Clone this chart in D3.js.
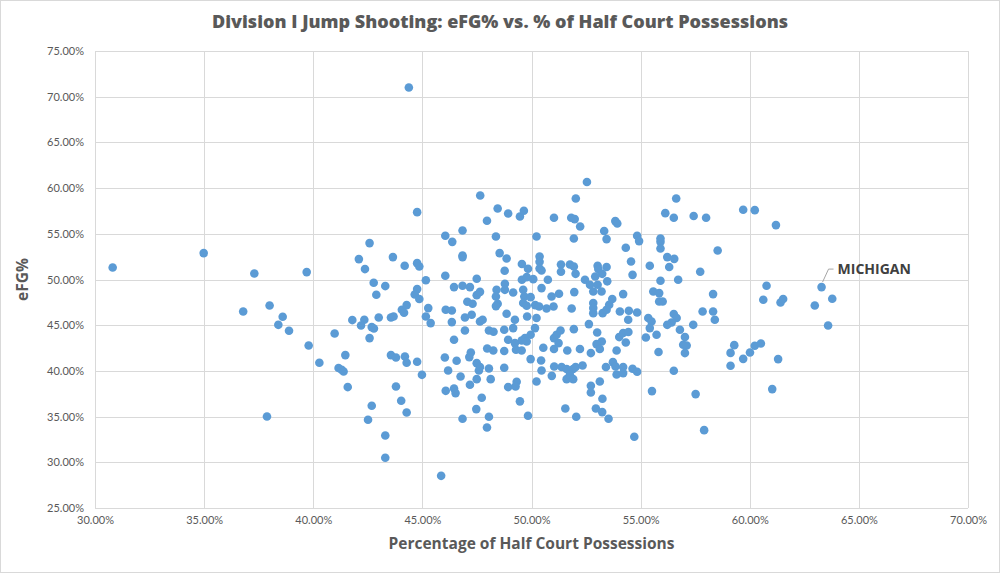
<!DOCTYPE html>
<html lang="en">
<head>
<meta charset="UTF-8">
<title>Division I Jump Shooting: eFG% vs. % of Half Court Possessions</title>
<script src="https://d3js.org/d3.v7.min.js"></script>
<style>
    body { margin: 0; background: #fff; }
    svg { display: block; font-family: "Open Sans", Lato, sans-serif; }
    .grid .domain { display: none; }
    .grid line { stroke: #d9d9d9; shape-rendering: crispEdges; }
    .grid text { font-size: 11px; fill: #595959; font-family: Lato, sans-serif; }
    .axis-title { font-size: 15.5px; font-weight: bold; fill: #595959; }
    .title { font-size: 18px; font-weight: 800; fill: #595959; }
</style>
</head>
<body>
<svg id="chart" width="1000" height="573"></svg>
<script>
// % of possessions in the half court, one per team
const halfCourtPct = [
    30.81, 34.98, 37.30, 39.70, 42.58, 42.09, 42.37, 43.65, 44.19, 44.76,
    47.65, 48.45, 48.93, 47.96, 49.47, 49.65, 52.54, 52.03, 51.03, 51.82,
    51.98, 52.23, 53.84, 53.93, 53.33, 53.44, 54.32, 46.05, 46.37, 46.84,
    48.37, 50.23, 51.94, 46.84, 46.84, 48.54, 48.86, 44.76, 44.86, 48.77,
    49.56, 49.84, 50.37, 50.37, 50.37, 50.46, 51.35, 51.35, 51.76, 51.94,
    52.02, 53.03, 53.06, 53.24, 52.92, 53.44, 54.56, 46.05, 45.16, 47.49,
    49.56, 49.78, 50.08, 50.75, 52.45, 53.47, 56.63, 56.13, 56.52, 57.43,
    58.00, 59.70, 60.23, 61.20, 54.84, 54.93, 55.91, 55.91, 55.91, 58.53,
    56.22, 56.54, 55.42, 56.31, 57.73, 54.63, 56.72, 55.91, 36.79, 38.00,
    38.60, 38.40, 38.89, 39.79, 40.28, 40.98, 41.47, 41.16, 41.30, 41.39,
    41.58, 41.79, 42.34, 42.19, 42.68, 42.78, 42.58, 43.00, 42.77, 43.30,
    42.89, 43.56, 43.68, 44.06, 44.28, 44.16, 43.56, 43.79, 44.20, 44.28,
    43.79, 44.03, 44.76, 44.65, 44.86, 45.27, 45.16, 45.38, 46.07, 46.35,
    46.45, 46.84, 47.18, 47.49, 47.64, 47.06, 47.30, 48.40, 48.37, 48.45,
    48.37, 48.78, 48.78, 49.16, 49.62, 49.67, 49.62, 49.78, 50.46, 49.96,
    50.17, 50.35, 50.69, 51.01, 50.92, 51.26, 51.96, 51.84, 52.68, 53.03,
    52.83, 53.21, 52.83, 52.83, 52.83, 53.26, 53.44, 53.56, 53.70, 54.20,
    54.05, 54.46, 54.43, 48.86, 46.95, 47.26, 47.64, 47.76, 46.35, 49.24,
    49.16, 49.80, 50.23, 46.95, 48.05, 48.26, 48.75, 50.16, 49.96, 49.70,
    49.55, 49.78, 48.93, 49.24, 49.29, 49.55, 48.25, 47.97, 48.75, 46.45,
    47.22, 47.15, 46.03, 46.57, 44.76, 44.98, 46.18, 46.75, 47.49, 47.64,
    47.59, 48.05, 48.75, 47.49, 48.13, 47.18, 48.93, 49.32, 49.27, 46.07,
    46.45, 46.52, 47.72, 49.96, 50.44, 50.46, 50.54, 50.23, 50.93, 51.04,
    51.38, 51.61, 51.91, 52.02, 52.34, 51.61, 51.76, 51.91, 51.03, 51.03,
    51.15, 51.33, 51.24, 51.94, 51.64, 52.22, 52.72, 53.01, 53.22, 52.98,
    53.13, 52.63, 53.90, 54.02, 54.20, 54.44, 54.32, 53.41, 53.73, 53.85,
    54.20, 53.90, 54.20, 53.13, 52.72, 52.72, 53.25, 49.47, 55.58, 55.85,
    55.85, 56.01, 58.32, 54.84, 55.35, 55.50, 55.42, 56.52, 56.65, 56.42,
    56.22, 57.84, 58.32, 58.40, 57.41, 56.80, 55.24, 55.73, 57.03, 56.95,
    57.11, 57.03, 55.82, 60.77, 60.62, 61.41, 61.53, 63.29, 62.98, 63.78,
    63.59, 59.29, 59.12, 59.70, 60.01, 60.23, 60.51, 61.30, 59.12, 54.63,
    54.84, 56.52, 55.52, 57.52, 61.03, 37.88, 42.68, 42.51, 43.30, 43.30,
    44.28, 46.84, 47.47, 48.05, 47.96, 49.84, 45.86, 51.55, 52.05, 52.95,
    53.24, 53.53, 54.71, 57.91, 44.38
];

// effective field goal % on jump shots, same order
const efgPct = [
    51.31, 52.89, 50.66, 50.81, 53.98, 52.23, 51.14, 52.45, 51.50, 57.37,
    59.19, 57.77, 57.22, 56.42, 56.89, 57.52, 60.66, 58.86, 56.75, 56.75,
    56.61, 55.80, 56.39, 56.13, 55.30, 54.42, 53.47, 54.78, 54.12, 55.36,
    54.70, 54.70, 54.49, 52.63, 52.45, 52.89, 52.30, 51.79, 51.42, 50.95,
    51.69, 51.17, 52.52, 51.94, 51.20, 50.98, 51.64, 50.84, 51.64, 51.42,
    50.62, 51.50, 51.14, 50.62, 50.33, 51.36, 51.97, 50.41, 49.91, 50.08,
    49.97, 50.26, 50.04, 49.97, 49.97, 49.80, 58.86, 57.26, 56.75, 56.94,
    56.75, 57.63, 57.59, 55.95, 54.78, 54.20, 54.49, 54.12, 53.39, 53.17,
    52.45, 52.26, 51.50, 51.36, 50.84, 50.51, 49.97, 49.86, 46.50, 47.16,
    45.92, 45.04, 44.39, 42.78, 40.89, 44.09, 41.73, 40.31, 40.12, 39.93,
    38.23, 45.56, 45.59, 44.97, 44.79, 44.64, 43.59, 45.84, 49.64, 49.28,
    48.33, 45.84, 45.95, 46.69, 47.20, 46.36, 41.73, 41.47, 41.58, 40.89,
    38.29, 36.73, 48.95, 48.36, 47.86, 46.87, 45.95, 45.23, 46.69, 46.61,
    49.17, 49.31, 49.17, 48.29, 48.65, 47.56, 47.34, 48.87, 48.14, 47.34,
    47.09, 49.53, 48.87, 48.58, 48.87, 48.14, 47.42, 47.12, 49.06, 48.07,
    47.20, 47.05, 46.83, 47.05, 48.14, 48.44, 48.62, 46.83, 49.42, 49.42,
    48.69, 48.69, 47.42, 46.87, 46.32, 46.32, 46.69, 47.23, 47.86, 48.40,
    46.50, 46.58, 45.59, 46.25, 45.84, 46.14, 45.41, 45.59, 45.34, 45.59,
    44.68, 45.95, 45.78, 44.42, 44.42, 44.28, 44.50, 44.68, 43.95, 43.59,
    43.33, 43.22, 43.40, 43.04, 42.31, 42.23, 42.23, 42.45, 42.17, 43.40,
    42.01, 41.51, 41.47, 41.11, 41.00, 39.57, 40.04, 39.39, 40.85, 40.42,
    40.04, 40.26, 40.34, 39.10, 39.10, 38.48, 38.23, 38.81, 38.29, 37.82,
    38.07, 37.57, 37.06, 41.29, 41.14, 40.04, 42.53, 38.84, 39.46, 40.48,
    40.42, 40.20, 40.20, 40.42, 40.59, 39.10, 39.57, 39.10, 42.39, 43.59,
    43.95, 44.42, 43.04, 44.57, 42.23, 42.39, 41.95, 44.20, 43.22, 42.93,
    42.39, 45.12, 42.23, 43.70, 44.14, 44.25, 43.11, 40.42, 40.96, 40.48,
    40.42, 39.61, 39.76, 38.84, 38.37, 37.64, 36.95, 36.67, 48.69, 48.51,
    47.59, 47.59, 48.40, 46.39, 45.78, 45.41, 44.68, 46.22, 45.78, 45.30,
    45.04, 46.50, 46.50, 45.59, 45.04, 44.50, 43.65, 43.95, 43.70, 42.86,
    42.78, 41.95, 42.06, 49.31, 47.78, 47.48, 47.86, 49.17, 47.16, 47.89,
    44.97, 42.82, 41.97, 41.32, 42.01, 42.75, 43.00, 41.29, 40.56, 40.23,
    39.90, 40.01, 37.79, 37.46, 38.01, 35.01, 36.18, 34.65, 32.93, 30.49,
    35.45, 34.76, 35.82, 34.99, 33.81, 35.09, 28.52, 35.89, 34.99, 35.89,
    35.49, 34.76, 32.79, 33.52, 71.00
];

const xTicks = [30, 35, 40, 45, 50, 55, 60, 65, 70];
const yTicks = [25, 30, 35, 40, 45, 50, 55, 60, 65, 70, 75];

// labelled team
const calloutTeam = 'MICHIGAN';
const calloutX = 63.29;
const calloutY = 49.17;

const W = 1000, H = 573;
const margin = { top: 51, right: 32, bottom: 65, left: 95 };
const width = W - margin.left - margin.right;
const height = H - margin.top - margin.bottom;

const svg = d3.select('#chart');

// outer chart border
svg.append('rect')
    .attr('x', 0.5).attr('y', 0.5)
    .attr('width', W - 1).attr('height', H - 1)
    .attr('fill', '#fff')
    .attr('stroke', '#d9d9d9');

const g = svg.append('g')
    .attr('transform', `translate(${margin.left},${margin.top})`);

const x = d3.scaleLinear().domain([30, 70]).range([0, width]);
const y = d3.scaleLinear().domain([25, 75]).range([height, 0]);

const fmt = d => d.toFixed(2) + '%';

g.append('g')
    .attr('class', 'grid')
    .attr('transform', `translate(0,${height})`)
    .call(d3.axisBottom(x).tickValues(xTicks).tickSize(-height).tickPadding(8).tickFormat(fmt));

g.append('g')
    .attr('class', 'grid')
    .call(d3.axisLeft(y).tickValues(yTicks).tickSize(-width).tickPadding(11).tickFormat(fmt));

// points
const points = halfCourtPct.map((v, i) => ({ x: v, y: efgPct[i] }));
g.selectAll('circle.dot')
    .data(points)
    .enter().append('circle')
    .attr('class', 'dot')
    .attr('cx', d => x(d.x))
    .attr('cy', d => y(d.y))
    .attr('r', 4.3)
    .attr('fill', '#5b9bd5');

// callout
const px = x(calloutX), py = y(calloutY);
g.append('polyline')
    .attr('points', `${px + 1},${py - 5} ${px + 7},${py - 18} ${px + 12},${py - 18}`)
    .attr('fill', 'none')
    .attr('stroke', '#a6a6a6')
    .attr('stroke-width', 1);
g.append('text')
    .attr('x', px + 16)
    .attr('y', py - 13.5)
    .style('font-size', '14px')
    .style('font-weight', 'bold')
    .attr('fill', '#404040')
    .text(calloutTeam);

// titles
svg.append('text')
    .attr('class', 'title')
    .attr('x', W / 2).attr('y', 28)
    .attr('text-anchor', 'middle')
    .text('Division I Jump Shooting: eFG% vs. % of Half Court Possessions');

svg.append('text')
    .attr('class', 'axis-title')
    .attr('x', margin.left + width / 2).attr('y', 549)
    .attr('text-anchor', 'middle')
    .text('Percentage of Half Court Possessions');

svg.append('text')
    .attr('class', 'axis-title')
    .attr('transform', `translate(28,${margin.top + height / 2}) rotate(-90)`)
    .attr('text-anchor', 'middle')
    .text('eFG%');
</script>
</body>
</html>
